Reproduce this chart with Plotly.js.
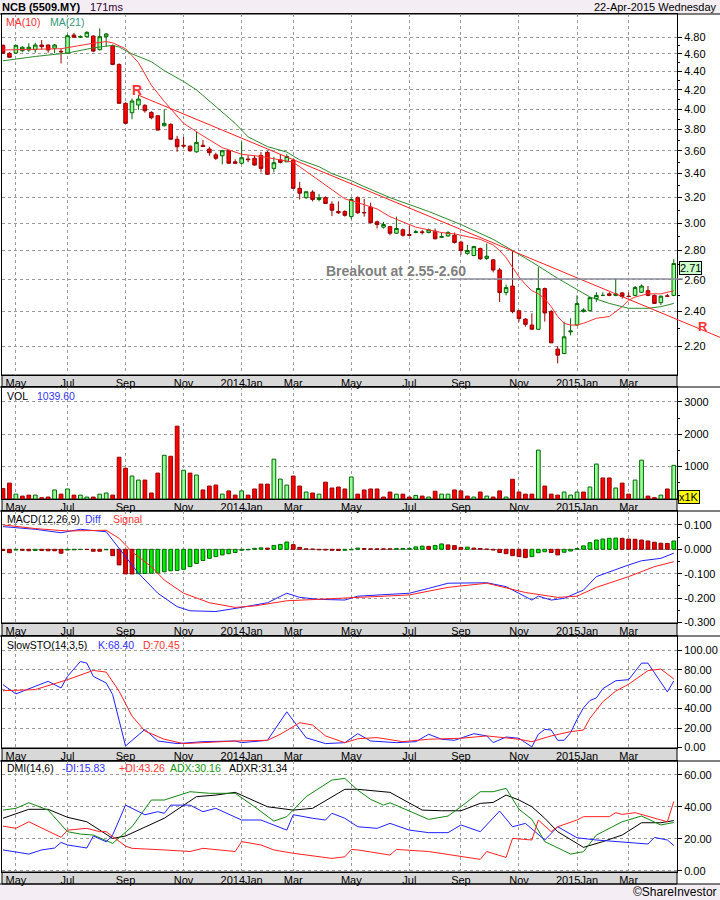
<!DOCTYPE html>
<html><head><meta charset="utf-8">
<script src="https://cdn.plot.ly/plotly-3.0.1.min.js"></script>
<style>html,body{margin:0;padding:0;background:#fff}#chart{width:720px;height:900px}</style>
</head><body><div id="chart"></div>
<script>
// ---------- data ----------
const START_WEEK = [2013, 3, 22];   // Monday of first weekly bar
const N_WEEKS = 105;
const monthTickDates = ['2013-05-06','2013-07-01','2013-09-02','2013-11-04','2014-01-06','2014-03-03','2014-05-05','2014-07-07','2014-09-01','2014-11-03','2015-01-05','2015-03-02'];
const monthTickText = ['May','Jul','Sep','Nov','2014Jan','Mar','May','Jul','Sep','Nov','2015Jan','Mar'];

const open = [4.70,4.607,4.61,4.637,4.645,4.649,4.704,4.704,4.666,4.63,4.607,4.824,4.798,4.804,4.812,4.649,4.804,4.696,4.479,4.06,3.965,4.043,4.04,3.968,3.935,3.837,3.85,3.708,3.652,3.644,3.592,3.652,3.618,3.565,3.557,3.602,3.503,3.49,3.528,3.534,3.56,3.587,3.445,3.52,3.503,3.518,3.276,3.20,3.245,3.185,3.20,3.147,3.09,3.09,3.05,3.20,3.082,3.125,3.01,2.97,2.974,2.925,2.95,2.915,2.93,2.935,2.93,2.94,2.895,2.905,2.91,2.86,2.78,2.765,2.815,2.745,2.735,2.666,2.518,2.56,2.405,2.355,2.32,2.295,2.544,2.40,2.183,2.159,2.28,2.32,2.40,2.405,2.48,2.50,2.51,2.50,2.516,2.495,2.50,2.52,2.53,2.50,2.455,2.497,2.50];
const high = [4.71,4.62,4.70,4.69,4.725,4.731,4.764,4.71,4.716,4.66,4.83,4.85,4.82,4.87,4.82,4.905,4.85,4.71,4.49,4.07,4.11,4.146,4.05,3.98,3.94,3.999,3.86,3.74,3.73,3.65,3.78,3.70,3.638,3.584,3.61,3.61,3.525,3.685,3.56,3.56,3.59,3.60,3.547,3.572,3.57,3.53,3.33,3.25,3.26,3.23,3.21,3.17,3.17,3.10,3.20,3.21,3.19,3.16,3.02,3.01,2.98,3.05,2.96,2.98,2.95,2.95,2.96,2.96,2.93,2.94,2.93,2.87,2.84,2.83,2.82,2.85,2.74,2.68,2.57,2.80,2.41,2.36,2.39,2.684,2.55,2.41,2.20,2.34,2.36,2.50,2.42,2.49,2.52,2.52,2.52,2.61,2.52,2.52,2.56,2.57,2.56,2.505,2.50,2.51,2.74];
const low = [4.60,4.56,4.60,4.62,4.624,4.613,4.649,4.613,4.607,4.49,4.60,4.79,4.79,4.80,4.62,4.64,4.684,4.47,4.06,3.86,3.90,3.994,3.965,3.90,3.79,3.83,3.70,3.592,3.63,3.592,3.585,3.638,3.557,3.518,3.48,3.485,3.485,3.48,3.50,3.47,3.41,3.39,3.41,3.489,3.50,3.27,3.185,3.19,3.17,3.17,3.15,3.054,3.07,3.05,3.03,3.07,3.05,3.00,2.96,2.96,2.91,2.92,2.90,2.905,2.925,2.915,2.925,2.88,2.89,2.90,2.85,2.77,2.77,2.76,2.735,2.735,2.65,2.459,2.50,2.39,2.34,2.31,2.295,2.29,2.34,2.218,2.106,2.155,2.26,2.315,2.395,2.40,2.46,2.495,2.495,2.495,2.48,2.49,2.495,2.515,2.495,2.45,2.44,2.49,2.495];
const close = [4.607,4.56,4.70,4.677,4.677,4.704,4.685,4.645,4.704,4.624,4.816,4.797,4.804,4.857,4.632,4.804,4.836,4.479,4.06,3.86,4.084,4.104,3.985,3.915,3.795,3.86,3.708,3.638,3.645,3.602,3.679,3.64,3.584,3.534,3.602,3.49,3.49,3.539,3.522,3.474,3.445,3.394,3.495,3.498,3.55,3.276,3.236,3.248,3.185,3.20,3.153,3.10,3.08,3.06,3.185,3.08,3.08,3.003,2.99,2.99,2.925,2.96,2.91,2.91,2.935,2.93,2.95,2.884,2.90,2.93,2.857,2.80,2.80,2.828,2.742,2.76,2.666,2.518,2.55,2.40,2.358,2.324,2.295,2.544,2.392,2.218,2.15,2.252,2.285,2.449,2.41,2.486,2.50,2.50,2.50,2.51,2.493,2.493,2.55,2.56,2.50,2.45,2.495,2.495,2.71];
const volumeK = [320,490,150,90,120,120,40,60,280,150,310,120,120,60,60,150,185,120,1290,950,710,585,585,185,800,1350,1320,2250,890,800,740,280,400,430,150,250,120,250,120,310,460,460,1230,615,430,710,400,215,185,150,520,340,370,310,680,150,280,310,310,60,215,150,150,60,110,90,60,240,150,150,280,250,90,60,215,90,60,250,60,610,215,150,150,1510,400,150,120,215,120,215,215,370,1080,650,650,340,490,150,585,1200,90,40,120,310,1039.6];

const ma10Idx = [0,5,9,14,16,17,19,21,23,25,28,31,34,37,40,43,45,47,49,51,53,55,58,60,62,64,66,68,70,72,74,76,77,78,79,80,81,82,83,84,85,86,87,88,89,90,92,94,96,97,98,100,102,104];
const ma10Val = [4.645,4.65,4.66,4.725,4.745,4.73,4.66,4.50,4.25,4.08,3.86,3.74,3.63,3.57,3.55,3.52,3.50,3.42,3.34,3.26,3.19,3.16,3.11,3.05,3.01,2.97,2.95,2.93,2.92,2.90,2.88,2.84,2.80,2.75,2.68,2.62,2.57,2.53,2.51,2.48,2.43,2.37,2.33,2.32,2.32,2.33,2.36,2.37,2.43,2.47,2.49,2.51,2.51,2.53];
const ma21Idx = [0,5,10,14,17,18,20,23,25,28,30,33,36,38,41,44,46,49,51,54,56,60,66,71,76,79,82,86,89,91,94,97,100,102,104];
const ma21Val = [4.52,4.57,4.61,4.67,4.70,4.68,4.60,4.51,4.41,4.29,4.20,4.03,3.86,3.73,3.64,3.59,3.52,3.46,3.40,3.34,3.29,3.20,3.09,2.99,2.88,2.80,2.72,2.61,2.54,2.49,2.45,2.42,2.42,2.43,2.45];

const macdHist = [-0.005,-0.014,-0.003,-0.004,-0.006,-0.005,-0.005,-0.006,-0.006,-0.016,-0.003,-0.002,-0.001,-0.001,-0.008,-0.008,-0.002,-0.026,-0.064,-0.101,-0.101,-0.100,-0.099,-0.098,-0.097,-0.092,-0.088,-0.087,-0.082,-0.071,-0.058,-0.046,-0.037,-0.030,-0.023,-0.018,-0.013,-0.004,-0.002,0.004,0.006,0.005,0.016,0.020,0.030,0.019,0.008,0.002,0.001,-0.002,-0.003,-0.004,-0.005,-0.004,-0.002,0.005,0.003,0.002,0.002,0.002,0.002,0.003,0.0035,0.004,0.010,0.013,0.012,0.016,0.022,0.018,0.015,0.008,0.009,0.005,0.003,0.001,-0.003,-0.013,-0.018,-0.026,-0.030,-0.034,-0.030,-0.014,-0.010,-0.013,-0.023,-0.012,-0.007,0.003,0.014,0.027,0.038,0.042,0.045,0.046,0.045,0.042,0.041,0.038,0.034,0.029,0.025,0.024,0.034];
const diffIdx = [0,5,9,12,16,17,19,21,24,27,29,33,37,41,44,46,49,53,55,63,66,69,75,78,82,83,85,87,90,92,97,99,102,104];
const diffVal = [0.093,0.082,0.068,0.082,0.072,0.038,-0.030,-0.098,-0.180,-0.235,-0.252,-0.255,-0.238,-0.219,-0.180,-0.197,-0.205,-0.208,-0.192,-0.180,-0.160,-0.139,-0.137,-0.153,-0.208,-0.192,-0.208,-0.201,-0.167,-0.112,-0.064,-0.047,-0.037,-0.016];
const signalIdx = [0,5,10,16,18,20,23,25,28,32,36,39,44,49,55,63,69,75,81,86,89,92,97,101,104];
const signalVal = [0.100,0.085,0.075,0.078,0.045,-0.010,-0.071,-0.126,-0.180,-0.219,-0.238,-0.232,-0.211,-0.205,-0.197,-0.187,-0.156,-0.139,-0.177,-0.197,-0.192,-0.156,-0.112,-0.071,-0.051];

const stoKIdx = [0,2,5,7,9,10,12,13,14,16,17,19,22,24,27,31,36,37,41,44,47,50,53,55,57,61,64,66,68,70,73,75,76,78,80,82,83,84,85,86,87,88,89,90,91,92,93,95,97,99,100,103,104];
const stoKVal = [64.6,55.1,62.9,68,61.2,73.1,88.4,86.7,73.1,66.3,54.4,1.6,18.6,6.7,4,6,6.7,5,7.4,36.7,10,4,5,14.2,6.7,5,6,13.6,8.5,7.4,14.2,11.9,5,10.8,9.5,0.6,13.6,18.6,18,7.4,7.4,15.3,28.9,40.8,48.3,51,60.5,68.6,69.7,86.7,86.7,57.1,68.4];
const stoDIdx = [0,5,10,14,16,18,20,22,25,28,36,41,43,46,48,50,53,55,58,62,66,71,75,80,82,85,88,90,91,93,95,97,100,102,104];
const stoDVal = [58.4,59.5,69.7,79.2,77.5,57.8,32.3,17,8.5,4,6.7,7.4,13.6,25.5,23.1,11.9,5,9,10.2,6,8.5,9.5,11.9,8.5,6,11.9,16.3,18,30,47,58,65,79,80.6,70.45];

const mdiIdx = [0,4,6,8,9,10,13,14,16,17,19,22,24,25,26,29,31,33,37,40,44,45,48,50,51,53,55,58,60,63,66,69,71,74,77,79,81,84,86,89,92,97,100,101,103,104];
const mdiVal = [13,10.4,13,14.2,17.7,16.1,14.2,21.7,18.1,22.3,41,35,36.9,35.9,41,41,36.9,39,31.7,31.7,25.4,35,32.8,31.7,35.9,32.8,27.5,26.5,29.6,25.4,23.8,23.8,28.6,24.4,37.3,27.5,29.6,19.2,27.5,20.6,19.2,17.5,16.7,20.8,19.2,15.83];
const pdiIdx = [0,2,4,9,10,13,15,16,19,20,25,29,31,36,37,40,42,45,51,53,54,55,60,61,66,74,75,78,79,82,83,85,86,89,90,94,95,96,98,100,103,104];
const pdiVal = [27.9,26.5,30.6,20.9,25.4,26.5,24.4,24.4,15.4,14,13,12,14,12,18.2,16.1,13,10.9,7.7,8.7,13.3,13,9.8,13.3,12,7.1,12,8.3,20.2,19.2,31.7,24.4,27.5,31.7,33.8,33.8,36.3,35.2,36.3,34.2,30.6,43.26];
const adxIdx = [0,2,4,7,10,12,14,17,20,23,25,29,32,36,39,42,44,47,51,53,55,57,59,60,66,69,71,74,76,78,80,82,84,88,90,92,96,99,102,104];
const adxVal = [37.9,39,42.5,37.9,24.4,22.9,22.3,17.1,27.5,44.2,44.2,49.4,48.4,48.4,40,31,33.8,46.3,56.7,57.7,50.4,44.6,41,42.5,32.1,34.2,40,49.4,49.4,51.5,38.4,32.1,18.2,10.4,11.9,22.3,30.6,34.2,28.6,30.16];
const adxrIdx = [0,4,7,10,13,17,19,22,25,30,33,36,41,45,48,53,55,60,65,68,71,74,76,78,80,82,84,86,90,93,96,99,102,104];
const adxrVal = [32.8,38.4,38.4,33.4,30.6,20.2,21.7,27.5,32.8,46.3,47.3,49,40,37.9,39,50.9,50.9,49,37.9,37.5,37.5,42.1,42.7,47.3,44.2,40,32.8,24.4,14.6,18.2,22.3,30,30,31.34];

const priceTicks = [2.2,2.4,2.6,2.8,3.0,3.2,3.4,3.6,3.8,4.0,4.2,4.4,4.6,4.8];
const priceMinor = [2.3,2.5,2.7,2.9,3.1,3.3,3.5,3.7,3.9,4.1,4.3,4.5,4.7];
const volTicks = [1000,2000,3000];
const macdTicks = [-0.3,-0.2,-0.1,0,0.1];
const stoTicks = [0,20,40,60,80,100];
const dmiTicks = [0,20,40,60];

// legend / label texts
const lastClose = '2.71';
const legendTexts = {
  title: 'NCB (5509.MY)', ms: '171ms', date: '22-Apr-2015 Wednesday',
  vol: '1039.60', k: 'K:68.40', d: 'D:70.45',
  mdi: '-DI:15.83', pdi: '+DI:43.26', adx: 'ADX:30.16', adxr: 'ADXR:31.34'
};

// ---------- build ----------
const weeks = [];
for (let i = 0; i < N_WEEKS; i++) {
  const d = new Date(Date.UTC(START_WEEK[0], START_WEEK[1], START_WEEK[2]) + i * 7 * 864e5);
  weeks.push(d.toISOString().slice(0, 10));
}
const atW = idx => idx.map(i => weeks[i]);

const W = 720, H = 900;
const PX = p => p / W, PY = p => 1 - p / H;
const F = 'Liberation Sans, Arial, sans-serif';

const upFill = '#99ff99', upLine = '#006600', dnFill = '#ff0000', dnLine = '#990000';
const volUp = close.map((c, i) => i === 0 ? c >= open[0] : c > close[i - 1]);
const histUp = macdHist.map((v, i) => i === 0 ? false : v > macdHist[i - 1]);

const traces = [
  {type:'candlestick', x:weeks, open, high, low, close, xaxis:'x', yaxis:'y',
   increasing:{line:{color:upLine, width:1}, fillcolor:upFill},
   decreasing:{line:{color:dnLine, width:1}, fillcolor:dnFill},
   whiskerwidth:0, hoverinfo:'skip'},
  {type:'scatter', mode:'lines', x:atW(ma10Idx), y:ma10Val, xaxis:'x', yaxis:'y', line:{color:'#ff3030', width:1}, hoverinfo:'skip'},
  {type:'scatter', mode:'lines', x:atW(ma21Idx), y:ma21Val, xaxis:'x', yaxis:'y', line:{color:'#2e8b2e', width:1}, hoverinfo:'skip'},

  {type:'bar', x:weeks, y:volumeK, xaxis:'x2', yaxis:'y2',
   marker:{color:volUp.map(u => u ? upFill : dnFill), line:{color:volUp.map(u => u ? upLine : dnLine), width:1}}, hoverinfo:'skip'},

  {type:'bar', x:weeks, y:macdHist, xaxis:'x3', yaxis:'y3',
   marker:{color:histUp.map(u => u ? '#00ee00' : '#ee0000'), line:{color:histUp.map(u => u ? '#006600' : '#880000'), width:1}}, hoverinfo:'skip'},
  {type:'scatter', mode:'lines', x:atW(diffIdx), y:diffVal, xaxis:'x3', yaxis:'y3', line:{color:'#2020ff', width:1}, hoverinfo:'skip'},
  {type:'scatter', mode:'lines', x:atW(signalIdx), y:signalVal, xaxis:'x3', yaxis:'y3', line:{color:'#ff2020', width:1}, hoverinfo:'skip'},

  {type:'scatter', mode:'lines', x:atW(stoKIdx), y:stoKVal, xaxis:'x4', yaxis:'y4', line:{color:'#2020ff', width:1}, hoverinfo:'skip'},
  {type:'scatter', mode:'lines', x:atW(stoDIdx), y:stoDVal, xaxis:'x4', yaxis:'y4', line:{color:'#ff2020', width:1}, hoverinfo:'skip'},

  {type:'scatter', mode:'lines', x:atW(adxrIdx), y:adxrVal, xaxis:'x5', yaxis:'y5', line:{color:'#000000', width:1}, hoverinfo:'skip'},
  {type:'scatter', mode:'lines', x:atW(adxIdx), y:adxVal, xaxis:'x5', yaxis:'y5', line:{color:'#118811', width:1}, hoverinfo:'skip'},
  {type:'scatter', mode:'lines', x:atW(mdiIdx), y:mdiVal, xaxis:'x5', yaxis:'y5', line:{color:'#2020ff', width:1}, hoverinfo:'skip'},
  {type:'scatter', mode:'lines', x:atW(pdiIdx), y:pdiVal, xaxis:'x5', yaxis:'y5', line:{color:'#ff2020', width:1}, hoverinfo:'skip'}
];

const xCommon = {
  type:'date', range:['2013-04-20 22:00','2015-04-23 12:00'], domain:[PX(2), PX(677)],
  tickmode:'array', tickvals:monthTickDates, ticktext:monthTickText, ticks:'', ticklabelstandoff:-2,
  showgrid:true, gridcolor:'#9a9a9a', griddash:'dot', gridwidth:1,
  showline:true, mirror:true, linecolor:'#000', linewidth:1, zeroline:false,
  tickfont:{family:F, size:11, color:'#000'}, fixedrange:true
};
const yCommon = {
  side:'right', showline:true, mirror:true, linecolor:'#000', linewidth:1,
  ticks:'outside', ticklen:4, tickcolor:'#000', tickwidth:1,
  showgrid:true, gridcolor:'#9a9a9a', griddash:'dot', gridwidth:1, zeroline:false,
  tickfont:{family:F, size:11, color:'#000'}, fixedrange:true, tickmode:'array'
};
const minorT = vals => ({tickmode:'array', tickvals:vals, ticks:'outside', ticklen:2, tickcolor:'#000', showgrid:false});

const dom = (top, bot) => [PY(bot), PY(top)];

const layout = {
  width:W, height:H, margin:{l:0, r:0, t:0, b:0}, paper_bgcolor:'#fff', plot_bgcolor:'#fff',
  showlegend:false, bargap:0.42, boxgap:0.45, boxgroupgap:0,
  xaxis:Object.assign({}, xCommon, {anchor:'y', rangeslider:{visible:false}}),
  xaxis2:Object.assign({}, xCommon, {anchor:'y2', matches:'x'}),
  xaxis3:Object.assign({}, xCommon, {anchor:'y3', matches:'x'}),
  xaxis4:Object.assign({}, xCommon, {anchor:'y4', matches:'x'}),
  xaxis5:Object.assign({}, xCommon, {anchor:'y5', matches:'x'}),
  yaxis:Object.assign({}, yCommon, {anchor:'x', domain:dom(14,375), type:'log',
    range:[Math.log10(2.045), Math.log10(5.087)], tickvals:priceTicks, ticktext:priceTicks.map(v => v.toFixed(2)), minor:minorT(priceMinor)}),
  yaxis2:Object.assign({}, yCommon, {anchor:'x2', domain:dom(387,499), range:[0,3460],
    tickvals:volTicks, ticktext:volTicks.map(String), minor:minorT([500,1500,2500])}),
  yaxis3:Object.assign({}, yCommon, {anchor:'x3', domain:dom(511,623), range:[-0.302,0.157],
    tickvals:macdTicks, ticktext:macdTicks.map(v => v.toFixed(3)), minor:minorT([-0.25,-0.15,-0.05,0.05])}),
  yaxis4:Object.assign({}, yCommon, {anchor:'x4', domain:dom(636,748), range:[-0.5,114.6],
    tickvals:stoTicks, ticktext:stoTicks.map(v => v.toFixed(2))}),
  yaxis5:Object.assign({}, yCommon, {anchor:'x5', domain:dom(761,872), range:[-0.8,68.6],
    tickvals:dmiTicks, ticktext:dmiTicks.map(v => v.toFixed(2))}),
  shapes:[], annotations:[]
};

// frame decorations
const S = layout.shapes;
S.push({type:'rect', xref:'paper', yref:'paper', x0:0, x1:1, y0:PY(14), y1:1, fillcolor:'#f4eef4', line:{width:0}, layer:'below'});
S.push({type:'rect', xref:'paper', yref:'paper', x0:0, x1:1, y0:0, y1:PY(884), fillcolor:'#f4eef4', line:{width:0}, layer:'below'});
[[375,387],[499,511],[623,636],[748,761],[872,884]].forEach(b => {
  S.push({type:'rect', xref:'paper', yref:'paper', x0:PX(2), x1:PX(677), y0:PY(b[1]), y1:PY(b[0]), fillcolor:'#d8d8d8', line:{color:'#000', width:1}, layer:'below'});
});
[14,387,511,636,761,884].forEach(y => {
  S.push({type:'line', xref:'paper', yref:'paper', x0:0, x1:1, y0:PY(y), y1:PY(y), line:{color:'#000', width:1}, layer:'below'});
});
// resistance trendline and breakout level
S.push({type:'line', xref:'paper', yref:'y', x0:PX(138), x1:PX(720), y0:4.146, y1:2.249, line:{color:'#ff2020', width:1}});
S.push({type:'line', xref:'paper', yref:'y', x0:PX(450), x1:PX(683), y0:2.605, y1:2.605, line:{color:'#8c8c9c', width:1.5}});

const A = layout.annotations;
function txt(text, x, y, color, size, extra) {
  A.push(Object.assign({xref:'paper', yref:'paper', x:PX(x), y:PY(y), xanchor:'left', yanchor:'middle',
    text:text, showarrow:false, borderpad:0, font:{family:F, size:size || 10.5, color:color || '#000'}}, extra || {}));
}
txt('<b>' + legendTexts.title + '</b>', 1, 7, '#000', 11);
txt(legendTexts.ms, 89, 7, '#330033', 11);
txt(legendTexts.date, 718, 7, '#000', 11, {xanchor:'right'});
txt('MA(10)', 5, 22, '#ff3030');
txt('MA(21)', 49, 22, '#33997a');
txt('VOL', 6, 396, '#000');
txt(legendTexts.vol, 36, 396, '#3333ff');
txt('MACD(12,26,9)', 6, 519, '#000');
txt('Diff', 84, 519, '#3333ff');
txt('Signal', 112, 519, '#ff3333');
txt('SlowSTO(14,3,5)', 6, 645, '#000');
txt(legendTexts.k, 97, 645, '#3333ff');
txt(legendTexts.d, 142, 645, '#ff3333');
txt('DMI(14,6)', 6, 768, '#000');
txt(legendTexts.mdi, 61, 768, '#3333ff');
txt(legendTexts.pdi, 118, 768, '#ff3333');
txt(legendTexts.adx, 169, 768, '#119911');
txt(legendTexts.adxr, 228, 768, '#000');
txt('<b>Breakout at 2.55-2.60</b>', 325, 271, '#808080', 14);
txt('<b>R</b>', 131, 90, '#ff3333', 14);
txt('<b>R</b>', 697, 326, '#ff3333', 13);
txt(lastClose, 679, 268, '#000', 11, {bgcolor:'#ccffcc', bordercolor:'#000', borderwidth:1, borderpad:0});
txt('x1K', 678, 497, '#000', 11, {bgcolor:'#ffff00', bordercolor:'#000', borderwidth:1, borderpad:0});
txt('\u00A9ShareInvestor', 718, 892, '#000', 12, {xanchor:'right'});

Plotly.newPlot('chart', traces, layout, {staticPlot:true, displayModeBar:false});
</script>
</body></html>
